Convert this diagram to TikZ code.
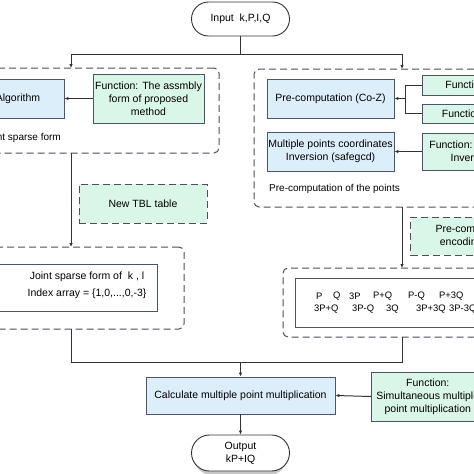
\documentclass[tikz,border=0pt]{standalone}
\usepackage{fontspec}
\setmainfont{Liberation Sans}
\usetikzlibrary{arrows.meta}
\definecolor{bfill}{HTML}{DDEEFB}
\definecolor{gfill}{HTML}{DAF6E8}
\definecolor{bdr}{HTML}{4A5568}
\definecolor{dsh}{HTML}{4D4D5C}
\definecolor{ln}{HTML}{333333}
\begin{document}
\begin{tikzpicture}[x=1pt,y=-1pt,
 font=\fontsize{10.5}{13}\selectfont,
 box/.style={draw=bdr, line width=0.8pt, inner sep=0pt, align=center},
 bluebox/.style={box, fill=bfill},
 greenbox/.style={box, fill=gfill},
 grp/.style={draw=dsh, line width=1pt, dash pattern=on 7pt off 4pt, rounded corners=5pt, inner sep=0pt},
 dgreen/.style={greenbox, draw=dsh, line width=1pt, dash pattern=on 7pt off 4pt},
 term/.style={draw=ln, line width=0.9pt, fill=white, align=center, inner sep=0pt},
 conn/.style={draw=ln, line width=1pt},
 arr/.style={conn, -{Latex[length=4pt,width=3.5pt]}},
 txt/.style={inner sep=0pt, align=center},
 ptxt/.style={inner sep=0pt, anchor=west, font=\fontsize{9.4}{11}\selectfont},
]
\useasboundingbox (0,0) rectangle (474,474);
\fill[white] (0,0) rectangle (474,474);

% input
\node[term, minimum width=98pt, minimum height=34pt, rounded corners=17pt] (inp) at (240.5,19) {Input~~k,P,I,Q};

% left group 1
\node[grp, minimum width=229pt, minimum height=85pt] (g1) at (104.5,110.5) {};
\node[bluebox, minimum width=92pt, minimum height=39pt] (alg) at (18,98.5) {Algorithm};
\node[greenbox, minimum width=111pt, minimum height=49pt] (fn1) at (148.5,98.5) {Function: The assmbly\\form of proposed\\method};
\node[txt, anchor=east, font=\fontsize{10}{12}\selectfont] (jsfl) at (61,138) {Joint sparse form};

% right group 1
\node[grp, minimum width=236pt, minimum height=138pt] (g2) at (372,138) {};
\node[bluebox, minimum width=127pt, minimum height=39pt] (coz) at (330.5,98.5) {Pre-computation (Co-Z)};
\node[bluebox, minimum width=127pt, minimum height=39pt] (mpi) at (330.5,151.5) {Multiple points coordinates\\Inversion (safegcd)};
\node[greenbox, anchor=west, minimum height=20pt, inner xsep=23pt] (fa) at (422,85) {Function: ZADDU};
\node[greenbox, anchor=west, minimum height=19pt, inner xsep=19.5pt] (fb) at (422,113.5) {Function: ZDAU};
\node[greenbox, anchor=west, minimum height=37pt, inner xsep=7pt] (fc) at (422,151.5) {Function: Modular\\Inversion};
\node[txt, anchor=west, font=\fontsize{10}{12}\selectfont] (ptl) at (269,189) {Pre-computation of the points};

% tables
\node[dgreen, minimum width=128pt, minimum height=39pt] (tbl) at (143,203.5) {New TBL table};
\node[dgreen, anchor=west, minimum height=38pt, inner xsep=25pt] (pce) at (410,236) {Pre-computation\\encoding table};

% left group 2
\node[grp, minimum width=194pt, minimum height=82pt] (g3) at (87,288) {};
\node[box, fill=white, minimum width=177pt, minimum height=47pt] (jsf) at (68.5,287.5) {};
\node[txt] (jsft) at (87,285.5) {Joint sparse form of~~k , l\\[4pt]Index array = \{1,0,...,0,-3\}};

% right group 2
\node[grp, minimum width=207pt, minimum height=69pt] (g4) at (386.5,302.5) {};
\node[box, fill=white, minimum width=195pt, minimum height=49pt] (pts) at (392.5,302.5) {};
\foreach \x/\t [count=\i] in {316/P, 333/Q, 349/3P, 373/P+Q, 408/P-Q, 439/P+3Q, 475/P-3Q}
  \node[ptxt] (ra\i) at (\x,296) {\t};
\foreach \x/\t [count=\i] in {314/3P+Q, 352/3P-Q, 386/3Q, 416/3P+3Q, 449/3P-3Q}
  \node[ptxt] (rb\i) at (\x,309) {\t};

% calculation
\node[bluebox, minimum width=189pt, minimum height=37pt] (calc) at (240.5,395.5) {Calculate multiple point multiplication};
\node[greenbox, anchor=west, minimum height=49pt, inner xsep=5pt] (fsim) at (371,396.5) {Function:\\Simultaneous multiple\\point multiplication};

% output
\fill[gray!45, rounded corners=18pt] (194,439) rectangle (287,475);
\node[term, minimum width=98pt, minimum height=36pt, rounded corners=18pt] (out) at (240.5,453) {Output\\kP+IQ};

% connectors
\coordinate (j1) at (240.5,54);
\coordinate (t1) at (71,68);
\coordinate (t2) at (402,69);
\draw[conn] (inp.south) -- (j1);
\draw[arr] (j1) -| (t1);
\draw[arr] (j1) -| (t2);
\draw[arr] (fn1.west) -- (alg.east);
\coordinate (ja) at (405,98.5);
\draw[conn] (fa.west) -| (ja);
\draw[conn] (fb.west) -| (ja);
\draw[arr] (ja) -- (coz.east);
\draw[arr] (fc.west) -- (mpi.east);
\coordinate (b1) at (71,153);
\coordinate (t3) at (71,247);
\draw[arr] (b1) -- (t3);
\coordinate (b2) at (402,207);
\coordinate (t4) at (402,268);
\draw[arr] (b2) -- (t4);
\coordinate (b3) at (71,329);
\coordinate (b4) at (402,337);
\coordinate (j2) at (240.5,362);
\draw[conn] (b3) |- (j2);
\draw[conn] (b4) |- (j2);
\draw[arr] (j2) -- (calc.north);
\draw[arr] (fsim.west) -- (calc.east);
\draw[arr] (calc.south) -- (out.north);
\end{tikzpicture}
\end{document}
